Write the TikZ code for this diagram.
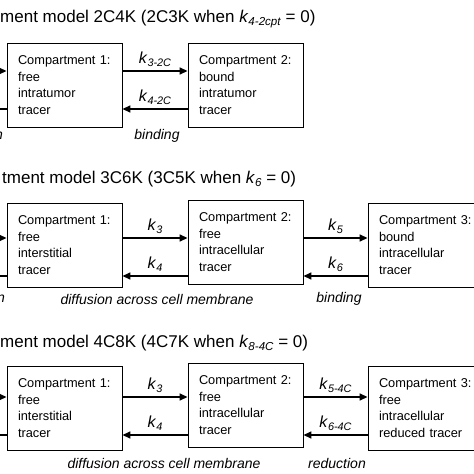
\documentclass[tikz,border=0pt]{standalone}
\usepackage{fontspec}
\usepackage{graphicx}
\setmainfont{Liberation Sans}
\usetikzlibrary{arrows.meta,positioning}
\newcommand{\kr}[1]{\textit{k}\raisebox{-0.35ex}{\scalebox{0.68}{\textit{#1}}}}

\begin{document}
\begin{tikzpicture}[x=1pt, y=-1pt,
    comp/.style={draw, line width=0.9pt, minimum width=115pt, minimum height=84pt, text width=93pt, inner xsep=11pt, align=left, font=\fontsize{12.8}{16.4}\selectfont},
    flow/.style={line width=1.5pt, -{Triangle[length=8pt,width=7pt]}},
    rate/.style={above=3pt, inner sep=1pt, font=\fontsize{16}{18}\selectfont},
    proc/.style={inner sep=0pt, font=\fontsize{14}{16}\selectfont\itshape},
    title/.style={anchor=base west, inner sep=0pt, font=\fontsize{17}{20}\selectfont}]
    \useasboundingbox (0,0) rectangle (474,474);

    % two compartments
    \node[title] (t1) at (0,22) {ment model 2C4K (2C3K when \kr{4-2cpt} = 0)};
    \node[comp] (a1) at (64.5,85) {Compartment 1:\\free\\intratumor\\tracer};
    \node[comp] (a2) at (245.5,85) {Compartment 2:\\bound\\intratumor\\tracer};
    \draw[flow] ([yshift=14pt]a1.east) -- node[rate] {\kr{3-2C}} ([yshift=14pt]a2.west);
    \draw[flow] ([yshift=-24pt]a2.west) -- node[rate] {\kr{4-2C}} ([yshift=-24pt]a1.east);
    \node[proc] (a12) at (157,136) {binding};
    \node[proc, anchor=east] (a01) at (3,136) {n};

    % three compartments
    \node[title] (t2) at (2,183) {tment model 3C6K (3C5K when \kr{6} = 0)};
    \node[comp] (b1) at (64.5,245) {Compartment 1:\\free\\interstitial\\tracer};
    \node[comp] (b2) at (245.5,242) {Compartment 2:\\free\\intracellular\\tracer};
    \node[comp] (b3) at (425.5,245) {Compartment 3:\\bound\\intracellular\\tracer};
    \draw[flow] ([yshift=7pt]b1.east) -- node[rate] {\kr{3}} ([yshift=4pt]b2.west);
    \draw[flow] ([yshift=-34pt]b2.west) -- node[rate] {\kr{4}} ([yshift=-31pt]b1.east);
    \draw[flow] ([yshift=4pt]b2.east) -- node[rate] {\kr{5}} ([yshift=7pt]b3.west);
    \draw[flow] ([yshift=-31pt]b3.west) -- node[rate] {\kr{6}} ([yshift=-34pt]b2.east);
    \node[proc] (b12) at (157,299) {diffusion across cell membrane};
    \node[proc] (b23) at (339,299) {binding};
    \node[proc, anchor=east] (b01) at (5,299) {n};

    % four compartments
    \node[title] (t3) at (0,347) {ment model 4C8K (4C7K when \kr{8-4C} = 0)};
    \node[comp] (c1) at (64.5,408) {Compartment 1:\\free\\interstitial\\tracer};
    \node[comp] (c2) at (245.5,405) {Compartment 2:\\free\\intracellular\\tracer};
    \node[comp] (c3) at (425.5,408) {Compartment 3:\\free\\intracellular\\reduced tracer};
    \draw[flow] ([yshift=11pt]c1.east) -- node[rate] {\kr{3}} ([yshift=8pt]c2.west);
    \draw[flow] ([yshift=-30pt]c2.west) -- node[rate] {\kr{4}} ([yshift=-27pt]c1.east);
    \draw[flow] ([yshift=8pt]c2.east) -- node[rate] {\kr{5-4C}} ([yshift=11pt]c3.west);
    \draw[flow] ([yshift=-27pt]c3.west) -- node[rate] {\kr{6-4C}} ([yshift=-30pt]c2.east);
    \node[proc] (c12) at (164,463) {diffusion across cell membrane};
    \node[proc] (c23) at (337,463) {reduction};

    % arrows from and to the left
    \foreach \r/\t/\b in {a/14/-24, b/7/-31, c/11/-27} {
        \coordinate (\r in) at ([xshift=-30pt, yshift=\t pt]\r1.west);
        \coordinate (\r out) at ([xshift=-30pt, yshift=\b pt]\r1.west);
        \draw[flow] (\r in) -- ([yshift=\t pt]\r1.west);
        \draw[flow] ([yshift=\b pt]\r1.west) -- (\r out);
    };
\end{tikzpicture}
\end{document}
